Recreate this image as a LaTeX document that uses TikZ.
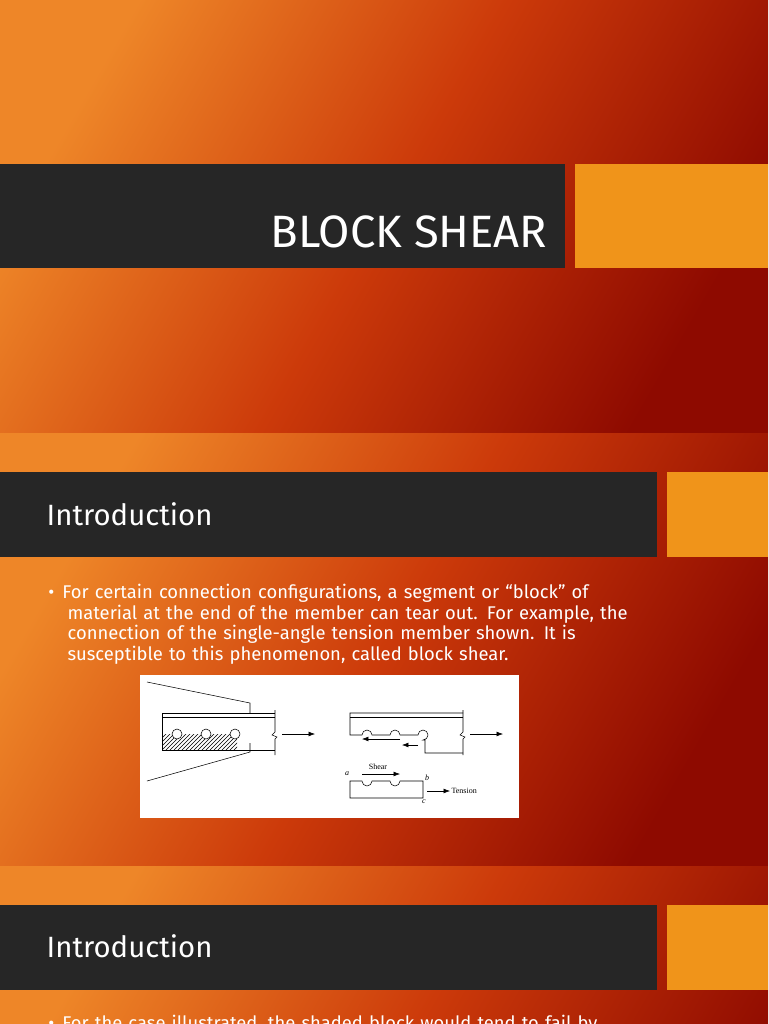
\documentclass[tikz,border=0pt]{standalone}
\usepackage{fontspec}
\setmainfont{Fira Sans}
\newfontfamily\figfont{Liberation Serif}
\usetikzlibrary{arrows.meta, patterns}
\definecolor{barblack}{HTML}{262626}
\definecolor{accent}{HTML}{F0941A}
\definecolor{slidelight}{HTML}{EE8628}
\definecolor{slidemid}{HTML}{CC3A0A}
\definecolor{slidedark}{HTML}{8E0A00}

\begin{document}
\begin{tikzpicture}[
  x=0.75pt, y=-0.75pt,
  bar/.style={fill=barblack, draw=none},
  accentbox/.style={fill=accent, draw=none},
  title/.style={text=white, font=\fontsize{34}{40}\selectfont},
  heading/.style={text=white, font=\fontsize{22}{26}\selectfont, anchor=west},
  body/.style={text=white, font=\fontsize{13.8}{15.5}\selectfont, anchor=north west, align=left, text width=570pt, inner sep=0pt},
  part/.style={thin, black},
  arr/.style={-Latex, thin, black},
  lbl/.style={font=\figfont\fontsize{6}{7}\selectfont, inner sep=1pt}
]
\useasboundingbox (0,0) rectangle (768,1024);
\clip (0,0) rectangle (768,1024);

% slide backgrounds
\foreach \top/\bot in {0/432, 433/865, 866/1300}
  \shade[shading=axis, left color=slidelight, right color=slidedark, middle color=slidemid, shading angle=60] (0,\top) rectangle (768,\bot);

% slide 1
\fill[bar] (0,164) rectangle (565,268);
\fill[accentbox] (575,164) rectangle (768,268);
\node[title, anchor=east] (maintitle) at (552,232) {BLOCK SHEAR};

% slide 2
\fill[bar] (0,472) rectangle (657,557);
\fill[accentbox] (667,472) rectangle (768,557);
\node[heading] (intro1) at (42,514) {Introduction};
\node[body] (text1) at (48,584) {\textbullet\hspace{0.45em}For certain connection configurations, a segment or “block” of\\
\hspace{1.05em}material at the end of the member can tear out. For example, the\\
\hspace{1.05em}connection of the single-angle tension member shown. It is\\
\hspace{1.05em}susceptible to this phenomenon, called block shear.};

% figure
\fill[white] (140,675) rectangle (519,818);
% gusset plate
\draw[part] (147,682) -- (250,703) -- (250,713);
\draw[part] (147,781) -- (250,752) -- (250,743);
% connected angle
\fill[pattern=north east lines] (162,734) rectangle (237,750);
\draw[part] (275,713) -- (162,713) -- (162,750) -- (275,750);
\draw[part] (162,717) -- (275,717);
\draw[part] (275,710) -- (275,732) -- (272,735) -- (277,737) -- (275,739) -- (275,755);
\foreach \cx in {177,206,235}
  \draw[part, fill=white] (\cx,734) circle (5);
\coordinate (la) at (282,734);
\coordinate (lb) at (315,734);
\draw[arr] (la) -- (lb);
% torn angle
\draw[part] (463,713) -- (350,713) -- (350,735) -- (362,735)
  arc[start angle=180, end angle=360, radius=5] -- (390,735)
  arc[start angle=180, end angle=360, radius=5] -- (418,735)
  arc[start angle=180, end angle=450, radius=5] -- (425,740) -- (425,753) -- (463,753);
\draw[part] (350,717) -- (463,717);
\draw[part] (463,710) -- (463,732) -- (460,735) -- (465,737) -- (463,739) -- (463,755);
\coordinate (sa) at (400,739);
\coordinate (sb) at (362,739);
\draw[arr] (sa) -- (sb);
\coordinate (sc) at (418,745);
\coordinate (sd) at (402,745);
\draw[arr] (sc) -- (sd);
\coordinate (ra) at (470,734);
\coordinate (rb) at (503,734);
\draw[arr] (ra) -- (rb);
% free body of block
\draw[part] (350,781) -- (362,781)
  arc[start angle=180, end angle=0, radius=5] -- (390,781)
  arc[start angle=180, end angle=0, radius=5] -- (423,781) -- (423,798) -- (350,798) -- cycle;
\node[lbl] (shearlbl) at (378,767) {Shear};
\coordinate (ha) at (362,774);
\coordinate (hb) at (400,774);
\draw[arr] (ha) -- (hb);
\node[lbl, font=\figfont\itshape\fontsize{6}{7}\selectfont] (pa) at (347,774) {a};
\node[lbl, font=\figfont\itshape\fontsize{6}{7}\selectfont] (pb) at (427,778) {b};
\node[lbl, font=\figfont\itshape\fontsize{6}{7}\selectfont] (pc) at (424,802) {c};
\node[lbl, anchor=west] (tension) at (450,791) {Tension};
\coordinate (ta) at (427,791);
\draw[arr] (ta) -- (tension);

% slide 3
\fill[bar] (0,905) rectangle (657,990);
\fill[accentbox] (667,905) rectangle (768,990);
\node[heading] (intro2) at (42,946) {Introduction};
\node[body] (text2) at (48,1015) {\textbullet\hspace{0.45em}For the case illustrated, the shaded block would tend to fail by};
\end{tikzpicture}
\end{document}
